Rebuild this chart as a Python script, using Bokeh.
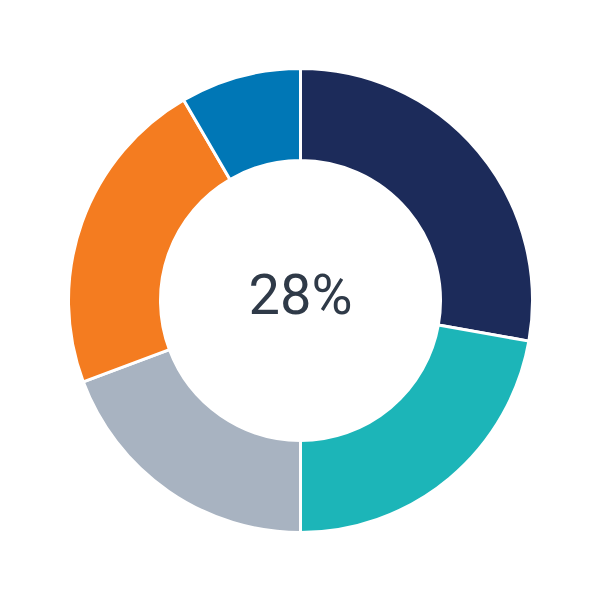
from math import pi

from bokeh.core.properties import value
from bokeh.embed import file_html
from bokeh.models import ColumnDataSource, Range1d
from bokeh.plotting import figure
from bokeh.resources import INLINE

# slice shares (%), clockwise from 12 o'clock
shares = [27.8, 22.2, 19.3, 22.3, 8.4]
colors = ["#1c2b5a", "#1cb5b8", "#a8b3c1", "#f47c20", "#0077b6"]
centerLabel = "28%"

size = 584
innerR = 140
outerR = 232

total = float(sum(shares))
starts = []
ends = []
acc = 0.0
for s in shares:
	starts.append(pi / 2 - 2 * pi * acc / total)
	acc += s
	ends.append(pi / 2 - 2 * pi * acc / total)

source = ColumnDataSource(dict(start=starts, end=ends, color=colors))

# range shifted so the ring centre lands at 300,300 of the page
p = figure(width=size, height=size, output_backend="svg", toolbar_location=None,
	x_range=Range1d(-300, size - 300), y_range=Range1d(300 - size, 300),
	min_border=0)
p.axis.visible = False
p.grid.visible = False
p.outline_line_color = None
p.background_fill_color = "white"
p.border_fill_color = "white"

p.annular_wedge(x=0, y=0, inner_radius=innerR, outer_radius=outerR,
	start_angle="start", end_angle="end", direction="clock",
	fill_color="color", line_color="white", line_width=3, source=source)

p.text(x=[0], y=[6], text=[centerLabel], text_align="center", text_baseline="middle",
	text_font=value("Roboto"), text_font_size="56px", text_color="#2f3a48")

open("out.html", "w").write(file_html(p, INLINE))
